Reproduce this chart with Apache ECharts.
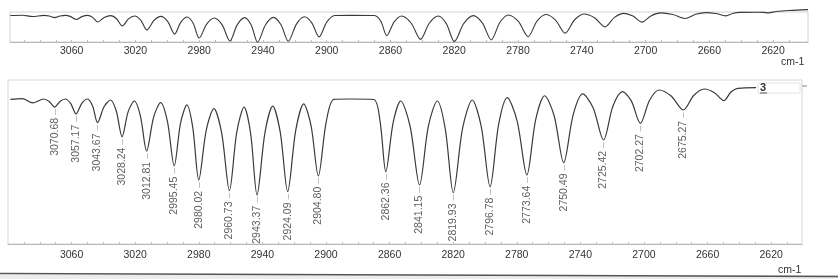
<!DOCTYPE html>
<html>
<head>
<meta charset="utf-8">
<script src="https://cdn.jsdelivr.net/npm/echarts@6/dist/echarts.min.js"></script>
<style>
  html, body { margin: 0; padding: 0; background: #ffffff; }
  #chart { width: 838px; height: 279px; }
</style>
</head>
<body>
<div id="chart"></div>
<script>
// Wavenumber tick labels (cm-1)
const xTickLabels = [3060, 3020, 2980, 2940, 2900, 2860, 2820, 2780, 2740, 2700, 2660, 2620];
// Minor ticks every 10 cm-1
const minorTicks = [3090,3080,3070,3060,3050,3040,3030,3020,3010,3000,2990,2980,2970,2960,2950,2940,2930,2920,2910,2900,2890,2880,2870,2860,2850,2840,2830,2820,2810,2800,2790,2780,2770,2760,2750,2740,2730,2720,2710,2700,2690,2680,2670,2660,2650,2640,2630,2620,2610];

// Spectrum: [wavenumber cm-1, transmittance (%)]
const spectrum = [
  [3098.5, 88.2], [3091, 88.7], [3084.5, 86.0], [3077.5, 88.4],
  [3074.1, 86.9], [3070.68, 83.5], [3067.3, 86.9], [3064, 88.4],
  [3060.6, 85.7], [3057.17, 79.3], [3053.6, 85.7], [3050, 88.4],
  [3046.8, 84.1], [3043.67, 74.0], [3039.6, 83.7], [3035.5, 87.8],
  [3031.9, 81.1], [3028.24, 65.4], [3024.4, 80.7], [3020.5, 87.2],
  [3016.7, 78.0], [3012.81, 56.7], [3008.4, 77.4], [3004, 86.2],
  [2999.7, 74.6], [2995.45, 47.6], [2991.5, 73.6], [2987.5, 84.8],
  [2983.8, 71.1], [2980.02, 39.0], [2975.3, 69.5], [2970.5, 82.6],
  [2965.6, 67.6], [2960.73, 32.5], [2956.1, 68.2], [2951.5, 83.5],
  [2947.4, 67.4], [2943.37, 29.9], [2938.4, 67.8], [2933.5, 84.1],
  [2928.8, 68.4], [2924.09, 31.9], [2919, 69.4], [2914, 85.4],
  [2909.4, 72.2], [2904.80, 41.5], [2899.9, 74.2], [2895, 88.2],
  [2885, 88.4], [2870, 88.1],
  [2866, 74.9], [2862.36, 44.1], [2857.7, 74.3], [2853, 87.2],
  [2847.1, 71.8], [2841.15, 36.0], [2835.6, 71.8], [2830, 87.2],
  [2825, 70.4], [2819.93, 31.3], [2814, 70.9], [2808, 87.8],
  [2802.4, 71.9], [2796.78, 34.9], [2791.4, 72.9], [2786, 89.2],
  [2779.8, 75.1], [2773.64, 42.1], [2768.1, 75.9], [2762.5, 90.4],
  [2756.5, 78.2], [2750.49, 49.6], [2744.5, 78.9], [2738.5, 91.5],
  [2732, 83.1], [2725.42, 63.4], [2719.5, 84.1], [2713.5, 92.9],
  [2707.9, 87.1], [2702.27, 73.6], [2696.4, 87.8], [2690.5, 93.9],
  [2682.9, 90.2], [2675.27, 81.7], [2668.6, 90.7], [2662, 94.5],
  [2655.9, 92.4], [2649.7, 87.4], [2645.3, 92.7], [2641, 94.9],
  [2629.5, 95.3]
];
// Extra end of the trace only visible in the upper overview panel
const overviewTail = [[2626, 95.0], [2623, 93.8], [2618, 97.0], [2610, 99.2], [2598.1, 101.0]];

// Labelled peaks (cm-1)
const peaks = ['3070.68','3057.17','3043.67','3028.24','3012.81','2995.45','2980.02','2960.73','2943.37','2924.09','2904.80','2862.36','2841.15','2819.93','2796.78','2773.64','2750.49','2725.42','2702.27','2675.27'];
const traceName = '3';

const peakData = peaks.map(p => {
  const wn = parseFloat(p);
  const pt = spectrum.find(d => Math.abs(d[0] - wn) < 0.001);
  return { value: [wn, pt[1]], name: p };
});

const lineColor = '#3a3a3a';
const textColor = '#333';
const fontFam = '"Liberation Sans", Arial, sans-serif';

const chart = echarts.init(document.getElementById('chart'), null, { renderer: 'canvas' });

function xAxisCfg(gridIndex, min, max, margin) {
  return {
    type: 'value', gridIndex, min, max, inverse: true,
    axisLine: { show: true, lineStyle: { color: '#b8b8b8', width: 1 } },
    axisTick: { show: true, inside: true, length: 2, customValues: minorTicks, lineStyle: { color: '#bdbdbd' } },
    axisLabel: { show: true, customValues: xTickLabels, formatter: v => String(v), fontSize: 10.5, color: textColor, fontFamily: fontFam, margin: margin },
    splitLine: { show: false }
  };
}

chart.setOption({
  animation: false,
  backgroundColor: '#ffffff',
  grid: [
    { left: 10, right: 30, top: 12, height: 30, show: true, borderColor: '#d2d2d2', borderWidth: 1, backgroundColor: 'transparent' },
    { left: 8, right: 36, top: 80, height: 164, show: true, borderColor: '#d6d6d6', borderWidth: 1, backgroundColor: 'transparent' }
  ],
  xAxis: [
    xAxisCfg(0, 2598.1, 3098.7, 4),
    xAxisCfg(1, 2600.6, 3100, 6)
  ],
  yAxis: [
    { type: 'value', gridIndex: 0, min: 30.3, max: 95.8, show: false, splitLine: { show: false } },
    { type: 'value', gridIndex: 1, min: 0, max: 100, show: false, splitLine: { show: false } }
  ],
  series: [
    {
      type: 'line', xAxisIndex: 0, yAxisIndex: 0,
      data: spectrum.concat(overviewTail),
      smooth: 0.3, showSymbol: false, clip: false,
      lineStyle: { color: lineColor, width: 1.1 }
    },
    {
      type: 'line', xAxisIndex: 1, yAxisIndex: 1,
      data: spectrum,
      smooth: 0.3, showSymbol: false, clip: false,
      lineStyle: { color: lineColor, width: 1.2 }
    },
    {
      type: 'scatter', xAxisIndex: 1, yAxisIndex: 1,
      data: peakData,
      symbolSize: 0.1,
      itemStyle: { color: 'rgba(0,0,0,0)' },
      label: {
        show: true, position: 'bottom', distance: 2, rotate: 90,
        align: 'right', verticalAlign: 'middle',
        formatter: p => '{t|' + p.name + '}{d| –}',
        rich: {
          t: { fontSize: 10.5, color: textColor, fontFamily: fontFam },
          d: { fontSize: 10.5, color: '#999', fontFamily: fontFam }
        }
      }
    }
  ],
  graphic: [
    { type: 'text', left: 781, top: 57, style: { text: 'cm-1', fontSize: 10.5, fill: textColor, fontFamily: fontFam } },
    { type: 'text', left: 778, top: 265, style: { text: 'cm-1', fontSize: 10.5, fill: textColor, fontFamily: fontFam } },
    { type: 'rect', shape: { x: 758, y: 83, width: 42, height: 10 }, style: { fill: 'none', stroke: '#e4e4e4', lineWidth: 1 } },
    { type: 'text', left: 760, top: 82, style: { text: traceName, fontSize: 11, fontWeight: 'bold', fill: textColor, fontFamily: fontFam } },
    { type: 'line', shape: { x1: 760, y1: 93, x2: 767, y2: 93 }, style: { stroke: '#555', lineWidth: 1 } },
    { type: 'line', shape: { x1: 802, y1: 86, x2: 807, y2: 86 }, style: { stroke: '#888', lineWidth: 1 } },
    { type: 'rect', shape: { x: 0, y: 275, width: 838, height: 4 }, style: { fill: '#ececec' } },
    { type: 'line', shape: { x1: 0, y1: 273.5, x2: 838, y2: 276.5 }, style: { stroke: '#555', lineWidth: 1.5 } }
  ]
});
</script>
</body>
</html>
